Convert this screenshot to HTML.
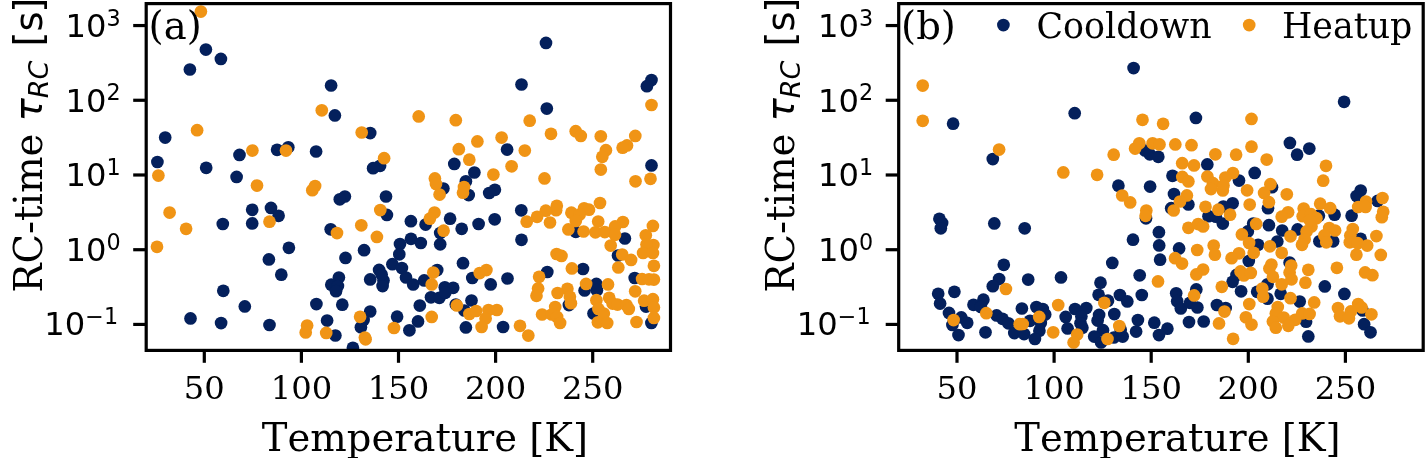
<!DOCTYPE html>
<html><head><meta charset="utf-8"><title>RC-time vs Temperature</title>
<style>html,body{margin:0;padding:0;background:#fff;}svg{display:block;}text{fill:#000;}.ser{font-family:"DejaVu Serif","Liberation Serif",serif;}.san{font-family:"DejaVu Sans","Liberation Sans",sans-serif;}</style></head><body>
<svg width="1425" height="458" viewBox="0 0 1425 458">
<rect width="1425" height="458" fill="#fff"/>
<clipPath id="ca"><rect x="146.2" y="3.6" width="524.3" height="346.79999999999995"/></clipPath>
<g clip-path="url(#ca)">
<circle cx="205.9" cy="49.6" r="6.35" fill="#04205c"/>
<circle cx="220.9" cy="58.9" r="6.35" fill="#04205c"/>
<circle cx="189.9" cy="69.5" r="6.35" fill="#04205c"/>
<circle cx="331.1" cy="85.5" r="6.35" fill="#04205c"/>
<circle cx="546.0" cy="42.9" r="6.35" fill="#04205c"/>
<circle cx="521.5" cy="84.5" r="6.35" fill="#04205c"/>
<circle cx="651.5" cy="80.1" r="6.35" fill="#04205c"/>
<circle cx="646.9" cy="86.2" r="6.35" fill="#04205c"/>
<circle cx="334.9" cy="115.4" r="6.35" fill="#04205c"/>
<circle cx="165.2" cy="137.6" r="6.35" fill="#04205c"/>
<circle cx="370.2" cy="133.1" r="6.35" fill="#04205c"/>
<circle cx="239.5" cy="154.9" r="6.35" fill="#04205c"/>
<circle cx="277.1" cy="149.8" r="6.35" fill="#04205c"/>
<circle cx="288.3" cy="147.3" r="6.35" fill="#04205c"/>
<circle cx="316.1" cy="151.5" r="6.35" fill="#04205c"/>
<circle cx="157.4" cy="162.0" r="6.35" fill="#04205c"/>
<circle cx="206.2" cy="167.8" r="6.35" fill="#04205c"/>
<circle cx="380.1" cy="165.8" r="6.35" fill="#04205c"/>
<circle cx="373.1" cy="168.2" r="6.35" fill="#04205c"/>
<circle cx="546.8" cy="108.6" r="6.35" fill="#04205c"/>
<circle cx="507.1" cy="149.6" r="6.35" fill="#04205c"/>
<circle cx="454.3" cy="163.9" r="6.35" fill="#04205c"/>
<circle cx="651.5" cy="165.4" r="6.35" fill="#04205c"/>
<circle cx="474.4" cy="172.5" r="6.35" fill="#04205c"/>
<circle cx="236.6" cy="176.9" r="6.35" fill="#04205c"/>
<circle cx="344.9" cy="196.5" r="6.35" fill="#04205c"/>
<circle cx="339.8" cy="199.3" r="6.35" fill="#04205c"/>
<circle cx="386.0" cy="196.5" r="6.35" fill="#04205c"/>
<circle cx="252.2" cy="209.8" r="6.35" fill="#04205c"/>
<circle cx="271.0" cy="207.9" r="6.35" fill="#04205c"/>
<circle cx="278.6" cy="215.8" r="6.35" fill="#04205c"/>
<circle cx="386.9" cy="214.9" r="6.35" fill="#04205c"/>
<circle cx="410.9" cy="221.2" r="6.35" fill="#04205c"/>
<circle cx="222.8" cy="224.0" r="6.35" fill="#04205c"/>
<circle cx="252.2" cy="223.4" r="6.35" fill="#04205c"/>
<circle cx="330.7" cy="229.3" r="6.35" fill="#04205c"/>
<circle cx="411.0" cy="238.8" r="6.35" fill="#04205c"/>
<circle cx="400.0" cy="244.0" r="6.35" fill="#04205c"/>
<circle cx="288.9" cy="247.8" r="6.35" fill="#04205c"/>
<circle cx="364.1" cy="250.2" r="6.35" fill="#04205c"/>
<circle cx="443.4" cy="188.5" r="6.35" fill="#04205c"/>
<circle cx="465.9" cy="181.3" r="6.35" fill="#04205c"/>
<circle cx="468.7" cy="195.1" r="6.35" fill="#04205c"/>
<circle cx="494.9" cy="189.8" r="6.35" fill="#04205c"/>
<circle cx="489.2" cy="193.0" r="6.35" fill="#04205c"/>
<circle cx="521.3" cy="210.3" r="6.35" fill="#04205c"/>
<circle cx="425.6" cy="224.6" r="6.35" fill="#04205c"/>
<circle cx="450.1" cy="218.7" r="6.35" fill="#04205c"/>
<circle cx="461.7" cy="228.8" r="6.35" fill="#04205c"/>
<circle cx="478.6" cy="224.0" r="6.35" fill="#04205c"/>
<circle cx="494.7" cy="219.3" r="6.35" fill="#04205c"/>
<circle cx="440.2" cy="233.1" r="6.35" fill="#04205c"/>
<circle cx="420.8" cy="243.0" r="6.35" fill="#04205c"/>
<circle cx="440.2" cy="244.3" r="6.35" fill="#04205c"/>
<circle cx="521.5" cy="239.8" r="6.35" fill="#04205c"/>
<circle cx="575.8" cy="231.8" r="6.35" fill="#04205c"/>
<circle cx="624.9" cy="238.5" r="6.35" fill="#04205c"/>
<circle cx="618.0" cy="255.5" r="6.35" fill="#04205c"/>
<circle cx="583.0" cy="269.0" r="6.35" fill="#04205c"/>
<circle cx="547.3" cy="272.0" r="6.35" fill="#04205c"/>
<circle cx="268.9" cy="259.4" r="6.35" fill="#04205c"/>
<circle cx="345.5" cy="257.9" r="6.35" fill="#04205c"/>
<circle cx="399.3" cy="254.3" r="6.35" fill="#04205c"/>
<circle cx="392.4" cy="264.2" r="6.35" fill="#04205c"/>
<circle cx="401.9" cy="268.0" r="6.35" fill="#04205c"/>
<circle cx="379.1" cy="269.9" r="6.35" fill="#04205c"/>
<circle cx="406.0" cy="277.5" r="6.35" fill="#04205c"/>
<circle cx="413.2" cy="284.5" r="6.35" fill="#04205c"/>
<circle cx="281.3" cy="274.7" r="6.35" fill="#04205c"/>
<circle cx="370.2" cy="279.4" r="6.35" fill="#04205c"/>
<circle cx="383.5" cy="280.4" r="6.35" fill="#04205c"/>
<circle cx="382.6" cy="286.1" r="6.35" fill="#04205c"/>
<circle cx="338.9" cy="277.5" r="6.35" fill="#04205c"/>
<circle cx="331.3" cy="284.7" r="6.35" fill="#04205c"/>
<circle cx="337.9" cy="286.1" r="6.35" fill="#04205c"/>
<circle cx="336.0" cy="291.2" r="6.35" fill="#04205c"/>
<circle cx="223.3" cy="290.8" r="6.35" fill="#04205c"/>
<circle cx="316.4" cy="304.1" r="6.35" fill="#04205c"/>
<circle cx="342.3" cy="304.7" r="6.35" fill="#04205c"/>
<circle cx="244.8" cy="306.4" r="6.35" fill="#04205c"/>
<circle cx="370.2" cy="311.5" r="6.35" fill="#04205c"/>
<circle cx="363.6" cy="320.0" r="6.35" fill="#04205c"/>
<circle cx="397.1" cy="316.7" r="6.35" fill="#04205c"/>
<circle cx="190.5" cy="318.4" r="6.35" fill="#04205c"/>
<circle cx="327.1" cy="320.6" r="6.35" fill="#04205c"/>
<circle cx="221.1" cy="323.1" r="6.35" fill="#04205c"/>
<circle cx="269.5" cy="325.0" r="6.35" fill="#04205c"/>
<circle cx="360.9" cy="327.2" r="6.35" fill="#04205c"/>
<circle cx="409.4" cy="330.3" r="6.35" fill="#04205c"/>
<circle cx="418.0" cy="321.4" r="6.35" fill="#04205c"/>
<circle cx="419.8" cy="305.6" r="6.35" fill="#04205c"/>
<circle cx="335.4" cy="335.5" r="6.35" fill="#04205c"/>
<circle cx="352.9" cy="347.8" r="6.35" fill="#04205c"/>
<circle cx="463.0" cy="263.2" r="6.35" fill="#04205c"/>
<circle cx="437.2" cy="270.1" r="6.35" fill="#04205c"/>
<circle cx="424.2" cy="280.4" r="6.35" fill="#04205c"/>
<circle cx="444.8" cy="287.3" r="6.35" fill="#04205c"/>
<circle cx="453.2" cy="287.8" r="6.35" fill="#04205c"/>
<circle cx="431.0" cy="297.3" r="6.35" fill="#04205c"/>
<circle cx="439.4" cy="297.8" r="6.35" fill="#04205c"/>
<circle cx="445.3" cy="292.8" r="6.35" fill="#04205c"/>
<circle cx="472.3" cy="278.0" r="6.35" fill="#04205c"/>
<circle cx="490.7" cy="284.4" r="6.35" fill="#04205c"/>
<circle cx="507.5" cy="278.5" r="6.35" fill="#04205c"/>
<circle cx="471.5" cy="300.5" r="6.35" fill="#04205c"/>
<circle cx="455.8" cy="304.5" r="6.35" fill="#04205c"/>
<circle cx="464.4" cy="310.5" r="6.35" fill="#04205c"/>
<circle cx="465.9" cy="327.4" r="6.35" fill="#04205c"/>
<circle cx="503.1" cy="327.0" r="6.35" fill="#04205c"/>
<circle cx="634.7" cy="278.0" r="6.35" fill="#04205c"/>
<circle cx="596.4" cy="283.9" r="6.35" fill="#04205c"/>
<circle cx="584.6" cy="290.5" r="6.35" fill="#04205c"/>
<circle cx="596.9" cy="290.2" r="6.35" fill="#04205c"/>
<circle cx="568.9" cy="305.1" r="6.35" fill="#04205c"/>
<circle cx="593.5" cy="313.5" r="6.35" fill="#04205c"/>
<circle cx="646.0" cy="306.6" r="6.35" fill="#04205c"/>
<circle cx="651.4" cy="323.0" r="6.35" fill="#04205c"/>
<circle cx="381.6" cy="274.6" r="6.35" fill="#04205c"/>
<circle cx="200.9" cy="11.6" r="6.35" fill="#f09415"/>
<circle cx="321.8" cy="110.3" r="6.35" fill="#f09415"/>
<circle cx="418.7" cy="116.4" r="6.35" fill="#f09415"/>
<circle cx="197.1" cy="130.2" r="6.35" fill="#f09415"/>
<circle cx="361.7" cy="132.5" r="6.35" fill="#f09415"/>
<circle cx="252.4" cy="150.6" r="6.35" fill="#f09415"/>
<circle cx="286.0" cy="150.6" r="6.35" fill="#f09415"/>
<circle cx="384.1" cy="158.2" r="6.35" fill="#f09415"/>
<circle cx="651.5" cy="105.0" r="6.35" fill="#f09415"/>
<circle cx="455.8" cy="120.2" r="6.35" fill="#f09415"/>
<circle cx="529.7" cy="120.7" r="6.35" fill="#f09415"/>
<circle cx="551.0" cy="133.8" r="6.35" fill="#f09415"/>
<circle cx="575.7" cy="131.2" r="6.35" fill="#f09415"/>
<circle cx="580.8" cy="135.9" r="6.35" fill="#f09415"/>
<circle cx="600.8" cy="136.3" r="6.35" fill="#f09415"/>
<circle cx="635.3" cy="135.9" r="6.35" fill="#f09415"/>
<circle cx="501.6" cy="137.6" r="6.35" fill="#f09415"/>
<circle cx="477.4" cy="141.4" r="6.35" fill="#f09415"/>
<circle cx="627.0" cy="145.4" r="6.35" fill="#f09415"/>
<circle cx="622.6" cy="147.7" r="6.35" fill="#f09415"/>
<circle cx="605.9" cy="150.2" r="6.35" fill="#f09415"/>
<circle cx="458.8" cy="149.2" r="6.35" fill="#f09415"/>
<circle cx="524.8" cy="150.6" r="6.35" fill="#f09415"/>
<circle cx="602.3" cy="156.8" r="6.35" fill="#f09415"/>
<circle cx="469.3" cy="159.7" r="6.35" fill="#f09415"/>
<circle cx="511.6" cy="166.3" r="6.35" fill="#f09415"/>
<circle cx="600.8" cy="169.6" r="6.35" fill="#f09415"/>
<circle cx="493.4" cy="174.6" r="6.35" fill="#f09415"/>
<circle cx="158.4" cy="175.6" r="6.35" fill="#f09415"/>
<circle cx="257.0" cy="185.6" r="6.35" fill="#f09415"/>
<circle cx="315.1" cy="186.0" r="6.35" fill="#f09415"/>
<circle cx="312.3" cy="190.2" r="6.35" fill="#f09415"/>
<circle cx="169.6" cy="212.6" r="6.35" fill="#f09415"/>
<circle cx="380.3" cy="210.1" r="6.35" fill="#f09415"/>
<circle cx="269.5" cy="221.7" r="6.35" fill="#f09415"/>
<circle cx="361.3" cy="225.3" r="6.35" fill="#f09415"/>
<circle cx="186.1" cy="228.8" r="6.35" fill="#f09415"/>
<circle cx="337.0" cy="233.1" r="6.35" fill="#f09415"/>
<circle cx="376.9" cy="236.9" r="6.35" fill="#f09415"/>
<circle cx="157.0" cy="246.8" r="6.35" fill="#f09415"/>
<circle cx="544.5" cy="178.4" r="6.35" fill="#f09415"/>
<circle cx="635.5" cy="181.3" r="6.35" fill="#f09415"/>
<circle cx="650.5" cy="178.8" r="6.35" fill="#f09415"/>
<circle cx="434.9" cy="178.4" r="6.35" fill="#f09415"/>
<circle cx="436.0" cy="184.1" r="6.35" fill="#f09415"/>
<circle cx="439.6" cy="194.6" r="6.35" fill="#f09415"/>
<circle cx="464.0" cy="187.0" r="6.35" fill="#f09415"/>
<circle cx="463.0" cy="192.7" r="6.35" fill="#f09415"/>
<circle cx="600.0" cy="203.0" r="6.35" fill="#f09415"/>
<circle cx="556.8" cy="205.8" r="6.35" fill="#f09415"/>
<circle cx="556.1" cy="210.2" r="6.35" fill="#f09415"/>
<circle cx="545.8" cy="210.7" r="6.35" fill="#f09415"/>
<circle cx="537.1" cy="216.8" r="6.35" fill="#f09415"/>
<circle cx="526.7" cy="221.7" r="6.35" fill="#f09415"/>
<circle cx="550.0" cy="222.5" r="6.35" fill="#f09415"/>
<circle cx="584.1" cy="208.3" r="6.35" fill="#f09415"/>
<circle cx="589.0" cy="209.7" r="6.35" fill="#f09415"/>
<circle cx="571.4" cy="212.7" r="6.35" fill="#f09415"/>
<circle cx="579.7" cy="214.6" r="6.35" fill="#f09415"/>
<circle cx="575.8" cy="221.0" r="6.35" fill="#f09415"/>
<circle cx="598.2" cy="221.5" r="6.35" fill="#f09415"/>
<circle cx="622.9" cy="222.0" r="6.35" fill="#f09415"/>
<circle cx="615.1" cy="226.4" r="6.35" fill="#f09415"/>
<circle cx="568.4" cy="229.4" r="6.35" fill="#f09415"/>
<circle cx="583.6" cy="231.5" r="6.35" fill="#f09415"/>
<circle cx="595.4" cy="232.3" r="6.35" fill="#f09415"/>
<circle cx="604.8" cy="232.1" r="6.35" fill="#f09415"/>
<circle cx="615.0" cy="234.8" r="6.35" fill="#f09415"/>
<circle cx="652.9" cy="225.9" r="6.35" fill="#f09415"/>
<circle cx="645.8" cy="235.3" r="6.35" fill="#f09415"/>
<circle cx="434.5" cy="212.6" r="6.35" fill="#f09415"/>
<circle cx="429.8" cy="218.7" r="6.35" fill="#f09415"/>
<circle cx="443.6" cy="230.7" r="6.35" fill="#f09415"/>
<circle cx="610.7" cy="245.6" r="6.35" fill="#f09415"/>
<circle cx="653.4" cy="245.1" r="6.35" fill="#f09415"/>
<circle cx="646.5" cy="244.6" r="6.35" fill="#f09415"/>
<circle cx="643.1" cy="253.0" r="6.35" fill="#f09415"/>
<circle cx="652.9" cy="253.0" r="6.35" fill="#f09415"/>
<circle cx="622.2" cy="254.5" r="6.35" fill="#f09415"/>
<circle cx="631.1" cy="259.9" r="6.35" fill="#f09415"/>
<circle cx="556.6" cy="254.0" r="6.35" fill="#f09415"/>
<circle cx="561.5" cy="255.9" r="6.35" fill="#f09415"/>
<circle cx="571.9" cy="268.4" r="6.35" fill="#f09415"/>
<circle cx="618.3" cy="267.5" r="6.35" fill="#f09415"/>
<circle cx="653.9" cy="265.8" r="6.35" fill="#f09415"/>
<circle cx="360.1" cy="316.8" r="6.35" fill="#f09415"/>
<circle cx="307.1" cy="325.5" r="6.35" fill="#f09415"/>
<circle cx="394.0" cy="328.0" r="6.35" fill="#f09415"/>
<circle cx="305.7" cy="332.4" r="6.35" fill="#f09415"/>
<circle cx="326.2" cy="332.9" r="6.35" fill="#f09415"/>
<circle cx="364.9" cy="337.6" r="6.35" fill="#f09415"/>
<circle cx="365.6" cy="339.3" r="6.35" fill="#f09415"/>
<circle cx="433.3" cy="272.6" r="6.35" fill="#f09415"/>
<circle cx="431.7" cy="284.4" r="6.35" fill="#f09415"/>
<circle cx="479.7" cy="273.1" r="6.35" fill="#f09415"/>
<circle cx="486.4" cy="270.1" r="6.35" fill="#f09415"/>
<circle cx="539.1" cy="276.8" r="6.35" fill="#f09415"/>
<circle cx="538.1" cy="288.4" r="6.35" fill="#f09415"/>
<circle cx="536.5" cy="295.8" r="6.35" fill="#f09415"/>
<circle cx="542.1" cy="314.5" r="6.35" fill="#f09415"/>
<circle cx="431.7" cy="316.9" r="6.35" fill="#f09415"/>
<circle cx="456.9" cy="305.4" r="6.35" fill="#f09415"/>
<circle cx="469.4" cy="314.0" r="6.35" fill="#f09415"/>
<circle cx="476.2" cy="311.0" r="6.35" fill="#f09415"/>
<circle cx="488.5" cy="310.0" r="6.35" fill="#f09415"/>
<circle cx="496.9" cy="310.0" r="6.35" fill="#f09415"/>
<circle cx="485.6" cy="318.4" r="6.35" fill="#f09415"/>
<circle cx="481.6" cy="327.0" r="6.35" fill="#f09415"/>
<circle cx="520.0" cy="325.8" r="6.35" fill="#f09415"/>
<circle cx="528.3" cy="335.6" r="6.35" fill="#f09415"/>
<circle cx="642.1" cy="279.0" r="6.35" fill="#f09415"/>
<circle cx="649.0" cy="279.3" r="6.35" fill="#f09415"/>
<circle cx="653.9" cy="279.6" r="6.35" fill="#f09415"/>
<circle cx="586.1" cy="283.9" r="6.35" fill="#f09415"/>
<circle cx="608.0" cy="284.4" r="6.35" fill="#f09415"/>
<circle cx="567.4" cy="288.8" r="6.35" fill="#f09415"/>
<circle cx="557.6" cy="293.0" r="6.35" fill="#f09415"/>
<circle cx="635.2" cy="291.3" r="6.35" fill="#f09415"/>
<circle cx="569.9" cy="296.8" r="6.35" fill="#f09415"/>
<circle cx="570.9" cy="303.2" r="6.35" fill="#f09415"/>
<circle cx="555.2" cy="307.1" r="6.35" fill="#f09415"/>
<circle cx="551.7" cy="314.5" r="6.35" fill="#f09415"/>
<circle cx="557.1" cy="316.9" r="6.35" fill="#f09415"/>
<circle cx="560.1" cy="323.0" r="6.35" fill="#f09415"/>
<circle cx="596.4" cy="300.2" r="6.35" fill="#f09415"/>
<circle cx="598.4" cy="309.0" r="6.35" fill="#f09415"/>
<circle cx="603.8" cy="313.5" r="6.35" fill="#f09415"/>
<circle cx="597.9" cy="322.3" r="6.35" fill="#f09415"/>
<circle cx="607.2" cy="323.0" r="6.35" fill="#f09415"/>
<circle cx="609.2" cy="297.8" r="6.35" fill="#f09415"/>
<circle cx="612.6" cy="303.6" r="6.35" fill="#f09415"/>
<circle cx="617.5" cy="304.6" r="6.35" fill="#f09415"/>
<circle cx="626.4" cy="305.1" r="6.35" fill="#f09415"/>
<circle cx="628.8" cy="309.0" r="6.35" fill="#f09415"/>
<circle cx="644.1" cy="300.7" r="6.35" fill="#f09415"/>
<circle cx="652.9" cy="299.2" r="6.35" fill="#f09415"/>
<circle cx="653.9" cy="307.6" r="6.35" fill="#f09415"/>
<circle cx="653.9" cy="317.9" r="6.35" fill="#f09415"/>
<circle cx="636.5" cy="322.0" r="6.35" fill="#f09415"/>
</g>
<line x1="204.3" y1="350.4" x2="204.3" y2="362.79999999999995" stroke="#000" stroke-width="3.2"/>
<text class="ser" x="204.3" y="398.8" font-size="32.2" text-anchor="middle">50</text>
<line x1="301.4" y1="350.4" x2="301.4" y2="362.79999999999995" stroke="#000" stroke-width="3.2"/>
<text class="ser" x="301.4" y="398.8" font-size="32.2" text-anchor="middle">100</text>
<line x1="398.5" y1="350.4" x2="398.5" y2="362.79999999999995" stroke="#000" stroke-width="3.2"/>
<text class="ser" x="398.5" y="398.8" font-size="32.2" text-anchor="middle">150</text>
<line x1="495.6" y1="350.4" x2="495.6" y2="362.79999999999995" stroke="#000" stroke-width="3.2"/>
<text class="ser" x="495.6" y="398.8" font-size="32.2" text-anchor="middle">200</text>
<line x1="592.7" y1="350.4" x2="592.7" y2="362.79999999999995" stroke="#000" stroke-width="3.2"/>
<text class="ser" x="592.7" y="398.8" font-size="32.2" text-anchor="middle">250</text>
<line x1="133.2" y1="25.55" x2="146.2" y2="25.55" stroke="#000" stroke-width="3.2"/>
<text class="san" x="120.70" y="36.95" font-size="32.2" text-anchor="end">10<tspan dy="-11.4" font-size="22.3">3</tspan></text>
<line x1="133.2" y1="100.27" x2="146.2" y2="100.27" stroke="#000" stroke-width="3.2"/>
<text class="san" x="120.70" y="111.67" font-size="32.2" text-anchor="end">10<tspan dy="-11.4" font-size="22.3">2</tspan></text>
<line x1="133.2" y1="174.99" x2="146.2" y2="174.99" stroke="#000" stroke-width="3.2"/>
<text class="san" x="120.70" y="186.39" font-size="32.2" text-anchor="end">10<tspan dy="-11.4" font-size="22.3">1</tspan></text>
<line x1="133.2" y1="249.71" x2="146.2" y2="249.71" stroke="#000" stroke-width="3.2"/>
<text class="san" x="120.70" y="261.11" font-size="32.2" text-anchor="end">10<tspan dy="-11.4" font-size="22.3">0</tspan></text>
<line x1="133.2" y1="324.43" x2="146.2" y2="324.43" stroke="#000" stroke-width="3.2"/>
<text class="san" x="118.20" y="335.13" font-size="32.2" text-anchor="end">10<tspan dy="-11.4" font-size="22.3">−1</tspan></text>
<rect x="146.2" y="3.6" width="524.3" height="346.79999999999995" fill="none" stroke="#000" stroke-width="3.2"/>
<text class="ser" x="148.6" y="39.3" font-size="38.6">(a)</text>
<text class="ser" x="261.8" y="450.6" font-size="38.5" style="font-kerning:none">Temperature [K]</text>
<text class="ser" transform="translate(41.999999999999986,292.5) rotate(-90)" font-size="38.6">RC-time <tspan class="san" font-style="italic">τ</tspan><tspan class="san" font-style="italic" font-size="27" dy="6">RC</tspan><tspan class="san" dy="-6" dx="14">[s</tspan><tspan class="san" dx="-1.5">]</tspan></text>
<clipPath id="cb"><rect x="898.7" y="3.6" width="524.5" height="346.79999999999995"/></clipPath>
<g clip-path="url(#cb)">
<circle cx="953.1" cy="123.7" r="6.35" fill="#04205c"/>
<circle cx="1074.7" cy="113.2" r="6.35" fill="#04205c"/>
<circle cx="1133.6" cy="68.1" r="6.35" fill="#04205c"/>
<circle cx="1195.9" cy="117.9" r="6.35" fill="#04205c"/>
<circle cx="1344.1" cy="101.8" r="6.35" fill="#04205c"/>
<circle cx="992.8" cy="159.1" r="6.35" fill="#04205c"/>
<circle cx="1145.0" cy="150.5" r="6.35" fill="#04205c"/>
<circle cx="1149.8" cy="154.3" r="6.35" fill="#04205c"/>
<circle cx="1158.3" cy="156.8" r="6.35" fill="#04205c"/>
<circle cx="1118.4" cy="185.7" r="6.35" fill="#04205c"/>
<circle cx="1150.1" cy="186.6" r="6.35" fill="#04205c"/>
<circle cx="1172.5" cy="175.8" r="6.35" fill="#04205c"/>
<circle cx="1289.9" cy="142.9" r="6.35" fill="#04205c"/>
<circle cx="1309.3" cy="148.6" r="6.35" fill="#04205c"/>
<circle cx="1297.1" cy="154.7" r="6.35" fill="#04205c"/>
<circle cx="1207.3" cy="164.4" r="6.35" fill="#04205c"/>
<circle cx="1254.7" cy="172.9" r="6.35" fill="#04205c"/>
<circle cx="1239.0" cy="180.6" r="6.35" fill="#04205c"/>
<circle cx="1272.0" cy="187.2" r="6.35" fill="#04205c"/>
<circle cx="1174.0" cy="194.0" r="6.35" fill="#04205c"/>
<circle cx="1188.4" cy="204.5" r="6.35" fill="#04205c"/>
<circle cx="1232.6" cy="203.3" r="6.35" fill="#04205c"/>
<circle cx="1223.3" cy="206.5" r="6.35" fill="#04205c"/>
<circle cx="1268.0" cy="208.2" r="6.35" fill="#04205c"/>
<circle cx="1171.2" cy="208.2" r="6.35" fill="#04205c"/>
<circle cx="1360.7" cy="190.5" r="6.35" fill="#04205c"/>
<circle cx="1356.6" cy="196.0" r="6.35" fill="#04205c"/>
<circle cx="1377.6" cy="200.9" r="6.35" fill="#04205c"/>
<circle cx="939.4" cy="218.8" r="6.35" fill="#04205c"/>
<circle cx="942.1" cy="223.0" r="6.35" fill="#04205c"/>
<circle cx="940.8" cy="228.3" r="6.35" fill="#04205c"/>
<circle cx="994.3" cy="223.4" r="6.35" fill="#04205c"/>
<circle cx="1024.7" cy="228.3" r="6.35" fill="#04205c"/>
<circle cx="1146.0" cy="218.3" r="6.35" fill="#04205c"/>
<circle cx="1158.9" cy="232.2" r="6.35" fill="#04205c"/>
<circle cx="1159.2" cy="245.4" r="6.35" fill="#04205c"/>
<circle cx="1133.0" cy="239.7" r="6.35" fill="#04205c"/>
<circle cx="1160.1" cy="259.7" r="6.35" fill="#04205c"/>
<circle cx="1112.3" cy="262.9" r="6.35" fill="#04205c"/>
<circle cx="1003.8" cy="264.8" r="6.35" fill="#04205c"/>
<circle cx="1139.7" cy="275.3" r="6.35" fill="#04205c"/>
<circle cx="1061.0" cy="277.4" r="6.35" fill="#04205c"/>
<circle cx="1028.2" cy="279.6" r="6.35" fill="#04205c"/>
<circle cx="999.1" cy="279.1" r="6.35" fill="#04205c"/>
<circle cx="992.8" cy="286.2" r="6.35" fill="#04205c"/>
<circle cx="1100.5" cy="282.7" r="6.35" fill="#04205c"/>
<circle cx="938.2" cy="293.8" r="6.35" fill="#04205c"/>
<circle cx="954.4" cy="291.8" r="6.35" fill="#04205c"/>
<circle cx="940.1" cy="303.6" r="6.35" fill="#04205c"/>
<circle cx="949.0" cy="312.9" r="6.35" fill="#04205c"/>
<circle cx="961.3" cy="317.4" r="6.35" fill="#04205c"/>
<circle cx="967.2" cy="322.8" r="6.35" fill="#04205c"/>
<circle cx="952.4" cy="325.0" r="6.35" fill="#04205c"/>
<circle cx="983.4" cy="299.7" r="6.35" fill="#04205c"/>
<circle cx="973.5" cy="304.8" r="6.35" fill="#04205c"/>
<circle cx="980.9" cy="307.0" r="6.35" fill="#04205c"/>
<circle cx="996.6" cy="315.4" r="6.35" fill="#04205c"/>
<circle cx="1002.5" cy="318.8" r="6.35" fill="#04205c"/>
<circle cx="1008.4" cy="323.3" r="6.35" fill="#04205c"/>
<circle cx="1021.9" cy="308.5" r="6.35" fill="#04205c"/>
<circle cx="1036.4" cy="307.0" r="6.35" fill="#04205c"/>
<circle cx="1042.8" cy="309.0" r="6.35" fill="#04205c"/>
<circle cx="1045.2" cy="314.4" r="6.35" fill="#04205c"/>
<circle cx="1030.0" cy="320.8" r="6.35" fill="#04205c"/>
<circle cx="1040.8" cy="323.0" r="6.35" fill="#04205c"/>
<circle cx="958.5" cy="335.1" r="6.35" fill="#04205c"/>
<circle cx="985.5" cy="332.3" r="6.35" fill="#04205c"/>
<circle cx="1014.3" cy="333.1" r="6.35" fill="#04205c"/>
<circle cx="1024.1" cy="334.1" r="6.35" fill="#04205c"/>
<circle cx="1039.4" cy="330.7" r="6.35" fill="#04205c"/>
<circle cx="1034.9" cy="339.0" r="6.35" fill="#04205c"/>
<circle cx="1098.6" cy="294.8" r="6.35" fill="#04205c"/>
<circle cx="1108.0" cy="300.7" r="6.35" fill="#04205c"/>
<circle cx="1119.9" cy="295.0" r="6.35" fill="#04205c"/>
<circle cx="1127.3" cy="301.4" r="6.35" fill="#04205c"/>
<circle cx="1141.8" cy="295.0" r="6.35" fill="#04205c"/>
<circle cx="1176.2" cy="293.3" r="6.35" fill="#04205c"/>
<circle cx="1177.2" cy="301.2" r="6.35" fill="#04205c"/>
<circle cx="1180.8" cy="308.5" r="6.35" fill="#04205c"/>
<circle cx="1190.0" cy="302.8" r="6.35" fill="#04205c"/>
<circle cx="1075.0" cy="309.0" r="6.35" fill="#04205c"/>
<circle cx="1086.3" cy="308.0" r="6.35" fill="#04205c"/>
<circle cx="1065.7" cy="316.9" r="6.35" fill="#04205c"/>
<circle cx="1081.4" cy="316.4" r="6.35" fill="#04205c"/>
<circle cx="1080.5" cy="323.3" r="6.35" fill="#04205c"/>
<circle cx="1067.6" cy="328.4" r="6.35" fill="#04205c"/>
<circle cx="1082.4" cy="327.7" r="6.35" fill="#04205c"/>
<circle cx="1099.1" cy="314.9" r="6.35" fill="#04205c"/>
<circle cx="1097.6" cy="320.6" r="6.35" fill="#04205c"/>
<circle cx="1114.3" cy="314.1" r="6.35" fill="#04205c"/>
<circle cx="1137.9" cy="320.0" r="6.35" fill="#04205c"/>
<circle cx="1154.3" cy="322.7" r="6.35" fill="#04205c"/>
<circle cx="1167.4" cy="328.7" r="6.35" fill="#04205c"/>
<circle cx="1189.0" cy="322.1" r="6.35" fill="#04205c"/>
<circle cx="1103.0" cy="330.2" r="6.35" fill="#04205c"/>
<circle cx="1094.2" cy="336.6" r="6.35" fill="#04205c"/>
<circle cx="1101.1" cy="342.5" r="6.35" fill="#04205c"/>
<circle cx="1113.9" cy="337.5" r="6.35" fill="#04205c"/>
<circle cx="1122.7" cy="336.6" r="6.35" fill="#04205c"/>
<circle cx="1120.7" cy="329.7" r="6.35" fill="#04205c"/>
<circle cx="1136.1" cy="331.6" r="6.35" fill="#04205c"/>
<circle cx="1159.0" cy="335.1" r="6.35" fill="#04205c"/>
<circle cx="1208.5" cy="216.2" r="6.35" fill="#04205c"/>
<circle cx="1215.9" cy="216.7" r="6.35" fill="#04205c"/>
<circle cx="1222.8" cy="223.6" r="6.35" fill="#04205c"/>
<circle cx="1253.2" cy="223.6" r="6.35" fill="#04205c"/>
<circle cx="1247.8" cy="231.4" r="6.35" fill="#04205c"/>
<circle cx="1268.9" cy="225.2" r="6.35" fill="#04205c"/>
<circle cx="1282.2" cy="230.5" r="6.35" fill="#04205c"/>
<circle cx="1297.6" cy="229.4" r="6.35" fill="#04205c"/>
<circle cx="1277.3" cy="241.5" r="6.35" fill="#04205c"/>
<circle cx="1258.1" cy="244.8" r="6.35" fill="#04205c"/>
<circle cx="1179.1" cy="248.4" r="6.35" fill="#04205c"/>
<circle cx="1318.9" cy="215.7" r="6.35" fill="#04205c"/>
<circle cx="1334.6" cy="214.7" r="6.35" fill="#04205c"/>
<circle cx="1351.6" cy="215.7" r="6.35" fill="#04205c"/>
<circle cx="1319.4" cy="241.3" r="6.35" fill="#04205c"/>
<circle cx="1333.1" cy="241.3" r="6.35" fill="#04205c"/>
<circle cx="1360.6" cy="238.8" r="6.35" fill="#04205c"/>
<circle cx="1248.8" cy="261.1" r="6.35" fill="#04205c"/>
<circle cx="1289.6" cy="262.6" r="6.35" fill="#04205c"/>
<circle cx="1267.5" cy="284.3" r="6.35" fill="#04205c"/>
<circle cx="1236.5" cy="274.9" r="6.35" fill="#04205c"/>
<circle cx="1232.6" cy="281.8" r="6.35" fill="#04205c"/>
<circle cx="1196.3" cy="289.4" r="6.35" fill="#04205c"/>
<circle cx="1197.4" cy="307.5" r="6.35" fill="#04205c"/>
<circle cx="1241.1" cy="291.3" r="6.35" fill="#04205c"/>
<circle cx="1216.9" cy="305.0" r="6.35" fill="#04205c"/>
<circle cx="1225.7" cy="308.0" r="6.35" fill="#04205c"/>
<circle cx="1257.2" cy="291.8" r="6.35" fill="#04205c"/>
<circle cx="1267.5" cy="298.7" r="6.35" fill="#04205c"/>
<circle cx="1280.7" cy="293.8" r="6.35" fill="#04205c"/>
<circle cx="1203.7" cy="321.5" r="6.35" fill="#04205c"/>
<circle cx="1324.8" cy="286.4" r="6.35" fill="#04205c"/>
<circle cx="1344.4" cy="293.9" r="6.35" fill="#04205c"/>
<circle cx="1299.7" cy="301.6" r="6.35" fill="#04205c"/>
<circle cx="1362.6" cy="310.5" r="6.35" fill="#04205c"/>
<circle cx="1364.1" cy="324.2" r="6.35" fill="#04205c"/>
<circle cx="1306.1" cy="321.7" r="6.35" fill="#04205c"/>
<circle cx="1308.3" cy="336.4" r="6.35" fill="#04205c"/>
<circle cx="1370.5" cy="332.3" r="6.35" fill="#04205c"/>
<circle cx="922.7" cy="85.6" r="6.35" fill="#f09415"/>
<circle cx="922.7" cy="120.8" r="6.35" fill="#f09415"/>
<circle cx="1142.5" cy="119.8" r="6.35" fill="#f09415"/>
<circle cx="1163.1" cy="123.8" r="6.35" fill="#f09415"/>
<circle cx="1251.5" cy="118.9" r="6.35" fill="#f09415"/>
<circle cx="999.1" cy="149.6" r="6.35" fill="#f09415"/>
<circle cx="1063.3" cy="172.4" r="6.35" fill="#f09415"/>
<circle cx="1097.1" cy="174.8" r="6.35" fill="#f09415"/>
<circle cx="1113.7" cy="154.7" r="6.35" fill="#f09415"/>
<circle cx="1139.3" cy="143.3" r="6.35" fill="#f09415"/>
<circle cx="1135.1" cy="148.6" r="6.35" fill="#f09415"/>
<circle cx="1152.6" cy="143.3" r="6.35" fill="#f09415"/>
<circle cx="1159.5" cy="144.4" r="6.35" fill="#f09415"/>
<circle cx="1122.2" cy="195.5" r="6.35" fill="#f09415"/>
<circle cx="1130.2" cy="202.4" r="6.35" fill="#f09415"/>
<circle cx="1146.3" cy="210.6" r="6.35" fill="#f09415"/>
<circle cx="1145.6" cy="215.8" r="6.35" fill="#f09415"/>
<circle cx="1175.3" cy="144.4" r="6.35" fill="#f09415"/>
<circle cx="1191.5" cy="145.2" r="6.35" fill="#f09415"/>
<circle cx="1251.5" cy="146.7" r="6.35" fill="#f09415"/>
<circle cx="1215.4" cy="154.3" r="6.35" fill="#f09415"/>
<circle cx="1236.1" cy="154.7" r="6.35" fill="#f09415"/>
<circle cx="1266.7" cy="159.6" r="6.35" fill="#f09415"/>
<circle cx="1326.0" cy="165.8" r="6.35" fill="#f09415"/>
<circle cx="1323.2" cy="180.7" r="6.35" fill="#f09415"/>
<circle cx="1182.2" cy="163.2" r="6.35" fill="#f09415"/>
<circle cx="1194.0" cy="165.4" r="6.35" fill="#f09415"/>
<circle cx="1182.3" cy="176.9" r="6.35" fill="#f09415"/>
<circle cx="1188.4" cy="181.4" r="6.35" fill="#f09415"/>
<circle cx="1207.4" cy="176.5" r="6.35" fill="#f09415"/>
<circle cx="1232.9" cy="173.1" r="6.35" fill="#f09415"/>
<circle cx="1225.3" cy="177.6" r="6.35" fill="#f09415"/>
<circle cx="1213.0" cy="183.2" r="6.35" fill="#f09415"/>
<circle cx="1211.0" cy="189.1" r="6.35" fill="#f09415"/>
<circle cx="1222.8" cy="190.5" r="6.35" fill="#f09415"/>
<circle cx="1223.5" cy="185.5" r="6.35" fill="#f09415"/>
<circle cx="1247.1" cy="190.3" r="6.35" fill="#f09415"/>
<circle cx="1270.4" cy="184.2" r="6.35" fill="#f09415"/>
<circle cx="1264.1" cy="192.9" r="6.35" fill="#f09415"/>
<circle cx="1286.8" cy="194.3" r="6.35" fill="#f09415"/>
<circle cx="1268.9" cy="202.2" r="6.35" fill="#f09415"/>
<circle cx="1249.7" cy="204.6" r="6.35" fill="#f09415"/>
<circle cx="1205.5" cy="206.8" r="6.35" fill="#f09415"/>
<circle cx="1218.4" cy="209.7" r="6.35" fill="#f09415"/>
<circle cx="1186.9" cy="195.4" r="6.35" fill="#f09415"/>
<circle cx="1180.0" cy="201.5" r="6.35" fill="#f09415"/>
<circle cx="1173.7" cy="210.5" r="6.35" fill="#f09415"/>
<circle cx="1382.5" cy="198.0" r="6.35" fill="#f09415"/>
<circle cx="1366.0" cy="201.6" r="6.35" fill="#f09415"/>
<circle cx="1358.2" cy="207.0" r="6.35" fill="#f09415"/>
<circle cx="1320.2" cy="203.7" r="6.35" fill="#f09415"/>
<circle cx="1330.2" cy="208.2" r="6.35" fill="#f09415"/>
<circle cx="1303.7" cy="208.5" r="6.35" fill="#f09415"/>
<circle cx="1383.2" cy="211.8" r="6.35" fill="#f09415"/>
<circle cx="1381.8" cy="217.2" r="6.35" fill="#f09415"/>
<circle cx="1365.6" cy="206.9" r="6.35" fill="#f09415"/>
<circle cx="1230.1" cy="214.7" r="6.35" fill="#f09415"/>
<circle cx="1288.1" cy="212.3" r="6.35" fill="#f09415"/>
<circle cx="1281.7" cy="216.7" r="6.35" fill="#f09415"/>
<circle cx="1188.4" cy="227.8" r="6.35" fill="#f09415"/>
<circle cx="1198.2" cy="224.1" r="6.35" fill="#f09415"/>
<circle cx="1203.1" cy="226.5" r="6.35" fill="#f09415"/>
<circle cx="1256.2" cy="223.9" r="6.35" fill="#f09415"/>
<circle cx="1241.9" cy="234.4" r="6.35" fill="#f09415"/>
<circle cx="1290.5" cy="236.3" r="6.35" fill="#f09415"/>
<circle cx="1249.1" cy="243.0" r="6.35" fill="#f09415"/>
<circle cx="1269.9" cy="246.3" r="6.35" fill="#f09415"/>
<circle cx="1213.7" cy="245.5" r="6.35" fill="#f09415"/>
<circle cx="1302.7" cy="216.2" r="6.35" fill="#f09415"/>
<circle cx="1311.0" cy="214.2" r="6.35" fill="#f09415"/>
<circle cx="1316.4" cy="218.2" r="6.35" fill="#f09415"/>
<circle cx="1311.5" cy="226.5" r="6.35" fill="#f09415"/>
<circle cx="1306.6" cy="231.4" r="6.35" fill="#f09415"/>
<circle cx="1304.6" cy="239.3" r="6.35" fill="#f09415"/>
<circle cx="1302.0" cy="244.8" r="6.35" fill="#f09415"/>
<circle cx="1329.2" cy="228.0" r="6.35" fill="#f09415"/>
<circle cx="1335.1" cy="230.5" r="6.35" fill="#f09415"/>
<circle cx="1324.3" cy="235.4" r="6.35" fill="#f09415"/>
<circle cx="1326.3" cy="242.3" r="6.35" fill="#f09415"/>
<circle cx="1352.8" cy="229.0" r="6.35" fill="#f09415"/>
<circle cx="1350.3" cy="235.4" r="6.35" fill="#f09415"/>
<circle cx="1349.8" cy="242.3" r="6.35" fill="#f09415"/>
<circle cx="1357.7" cy="243.2" r="6.35" fill="#f09415"/>
<circle cx="1367.2" cy="245.6" r="6.35" fill="#f09415"/>
<circle cx="1376.4" cy="236.1" r="6.35" fill="#f09415"/>
<circle cx="1175.1" cy="258.2" r="6.35" fill="#f09415"/>
<circle cx="1182.0" cy="263.6" r="6.35" fill="#f09415"/>
<circle cx="1197.2" cy="250.0" r="6.35" fill="#f09415"/>
<circle cx="1214.9" cy="254.7" r="6.35" fill="#f09415"/>
<circle cx="1239.0" cy="253.3" r="6.35" fill="#f09415"/>
<circle cx="1231.6" cy="258.2" r="6.35" fill="#f09415"/>
<circle cx="1253.7" cy="252.8" r="6.35" fill="#f09415"/>
<circle cx="1281.7" cy="252.8" r="6.35" fill="#f09415"/>
<circle cx="1291.2" cy="265.5" r="6.35" fill="#f09415"/>
<circle cx="1271.4" cy="264.6" r="6.35" fill="#f09415"/>
<circle cx="1269.4" cy="268.5" r="6.35" fill="#f09415"/>
<circle cx="1272.9" cy="276.8" r="6.35" fill="#f09415"/>
<circle cx="1289.6" cy="272.4" r="6.35" fill="#f09415"/>
<circle cx="1291.5" cy="279.3" r="6.35" fill="#f09415"/>
<circle cx="1281.7" cy="284.3" r="6.35" fill="#f09415"/>
<circle cx="1240.5" cy="271.4" r="6.35" fill="#f09415"/>
<circle cx="1243.9" cy="275.4" r="6.35" fill="#f09415"/>
<circle cx="1250.8" cy="272.9" r="6.35" fill="#f09415"/>
<circle cx="1203.1" cy="269.5" r="6.35" fill="#f09415"/>
<circle cx="1196.3" cy="274.4" r="6.35" fill="#f09415"/>
<circle cx="1158.0" cy="281.4" r="6.35" fill="#f09415"/>
<circle cx="1221.8" cy="286.8" r="6.35" fill="#f09415"/>
<circle cx="1262.3" cy="288.6" r="6.35" fill="#f09415"/>
<circle cx="1356.4" cy="254.7" r="6.35" fill="#f09415"/>
<circle cx="1380.8" cy="254.9" r="6.35" fill="#f09415"/>
<circle cx="1308.3" cy="269.8" r="6.35" fill="#f09415"/>
<circle cx="1336.9" cy="267.8" r="6.35" fill="#f09415"/>
<circle cx="1365.1" cy="272.4" r="6.35" fill="#f09415"/>
<circle cx="1372.4" cy="275.2" r="6.35" fill="#f09415"/>
<circle cx="1305.4" cy="282.7" r="6.35" fill="#f09415"/>
<circle cx="1194.1" cy="295.4" r="6.35" fill="#f09415"/>
<circle cx="1224.5" cy="311.6" r="6.35" fill="#f09415"/>
<circle cx="1249.3" cy="304.1" r="6.35" fill="#f09415"/>
<circle cx="1263.1" cy="296.7" r="6.35" fill="#f09415"/>
<circle cx="1290.5" cy="298.2" r="6.35" fill="#f09415"/>
<circle cx="1277.8" cy="307.0" r="6.35" fill="#f09415"/>
<circle cx="1275.8" cy="313.4" r="6.35" fill="#f09415"/>
<circle cx="1283.7" cy="317.6" r="6.35" fill="#f09415"/>
<circle cx="1272.9" cy="321.5" r="6.35" fill="#f09415"/>
<circle cx="1295.2" cy="319.8" r="6.35" fill="#f09415"/>
<circle cx="1245.9" cy="317.3" r="6.35" fill="#f09415"/>
<circle cx="1251.5" cy="324.6" r="6.35" fill="#f09415"/>
<circle cx="1219.0" cy="323.4" r="6.35" fill="#f09415"/>
<circle cx="1233.1" cy="338.8" r="6.35" fill="#f09415"/>
<circle cx="1275.8" cy="327.7" r="6.35" fill="#f09415"/>
<circle cx="1288.3" cy="325.8" r="6.35" fill="#f09415"/>
<circle cx="1314.2" cy="302.4" r="6.35" fill="#f09415"/>
<circle cx="1358.2" cy="304.1" r="6.35" fill="#f09415"/>
<circle cx="1361.6" cy="307.5" r="6.35" fill="#f09415"/>
<circle cx="1338.0" cy="308.0" r="6.35" fill="#f09415"/>
<circle cx="1350.8" cy="311.4" r="6.35" fill="#f09415"/>
<circle cx="1340.0" cy="316.3" r="6.35" fill="#f09415"/>
<circle cx="1348.9" cy="318.3" r="6.35" fill="#f09415"/>
<circle cx="1371.4" cy="314.3" r="6.35" fill="#f09415"/>
<circle cx="1302.2" cy="313.4" r="6.35" fill="#f09415"/>
<circle cx="1309.6" cy="313.9" r="6.35" fill="#f09415"/>
<circle cx="1005.9" cy="289.0" r="6.35" fill="#f09415"/>
<circle cx="953.6" cy="320.1" r="6.35" fill="#f09415"/>
<circle cx="986.3" cy="313.2" r="6.35" fill="#f09415"/>
<circle cx="1039.2" cy="316.9" r="6.35" fill="#f09415"/>
<circle cx="1019.7" cy="324.2" r="6.35" fill="#f09415"/>
<circle cx="1022.7" cy="324.0" r="6.35" fill="#f09415"/>
<circle cx="1058.2" cy="305.1" r="6.35" fill="#f09415"/>
<circle cx="1053.2" cy="332.3" r="6.35" fill="#f09415"/>
<circle cx="1104.3" cy="302.8" r="6.35" fill="#f09415"/>
<circle cx="1119.3" cy="326.0" r="6.35" fill="#f09415"/>
<circle cx="1077.2" cy="334.6" r="6.35" fill="#f09415"/>
<circle cx="1073.6" cy="342.5" r="6.35" fill="#f09415"/>
<circle cx="1107.5" cy="339.0" r="6.35" fill="#f09415"/>
<circle cx="1309.9" cy="220.2" r="6.35" fill="#f09415"/>
</g>
<line x1="957.0" y1="350.4" x2="957.0" y2="362.79999999999995" stroke="#000" stroke-width="3.2"/>
<text class="ser" x="957.0" y="398.8" font-size="32.2" text-anchor="middle">50</text>
<line x1="1054.1" y1="350.4" x2="1054.1" y2="362.79999999999995" stroke="#000" stroke-width="3.2"/>
<text class="ser" x="1054.1" y="398.8" font-size="32.2" text-anchor="middle">100</text>
<line x1="1151.2" y1="350.4" x2="1151.2" y2="362.79999999999995" stroke="#000" stroke-width="3.2"/>
<text class="ser" x="1151.2" y="398.8" font-size="32.2" text-anchor="middle">150</text>
<line x1="1248.3000000000002" y1="350.4" x2="1248.3000000000002" y2="362.79999999999995" stroke="#000" stroke-width="3.2"/>
<text class="ser" x="1248.3000000000002" y="398.8" font-size="32.2" text-anchor="middle">200</text>
<line x1="1345.4" y1="350.4" x2="1345.4" y2="362.79999999999995" stroke="#000" stroke-width="3.2"/>
<text class="ser" x="1345.4" y="398.8" font-size="32.2" text-anchor="middle">250</text>
<line x1="885.7" y1="25.55" x2="898.7" y2="25.55" stroke="#000" stroke-width="3.2"/>
<text class="san" x="873.20" y="36.95" font-size="32.2" text-anchor="end">10<tspan dy="-11.4" font-size="22.3">3</tspan></text>
<line x1="885.7" y1="100.27" x2="898.7" y2="100.27" stroke="#000" stroke-width="3.2"/>
<text class="san" x="873.20" y="111.67" font-size="32.2" text-anchor="end">10<tspan dy="-11.4" font-size="22.3">2</tspan></text>
<line x1="885.7" y1="174.99" x2="898.7" y2="174.99" stroke="#000" stroke-width="3.2"/>
<text class="san" x="873.20" y="186.39" font-size="32.2" text-anchor="end">10<tspan dy="-11.4" font-size="22.3">1</tspan></text>
<line x1="885.7" y1="249.71" x2="898.7" y2="249.71" stroke="#000" stroke-width="3.2"/>
<text class="san" x="873.20" y="261.11" font-size="32.2" text-anchor="end">10<tspan dy="-11.4" font-size="22.3">0</tspan></text>
<line x1="885.7" y1="324.43" x2="898.7" y2="324.43" stroke="#000" stroke-width="3.2"/>
<text class="san" x="870.70" y="335.13" font-size="32.2" text-anchor="end">10<tspan dy="-11.4" font-size="22.3">−1</tspan></text>
<rect x="898.7" y="3.6" width="524.5" height="346.79999999999995" fill="none" stroke="#000" stroke-width="3.2"/>
<text class="ser" x="901.1" y="39.3" font-size="38.6">(b)</text>
<text class="ser" x="1014.3" y="450.6" font-size="38.5" style="font-kerning:none">Temperature [K]</text>
<text class="ser" transform="translate(793.7,292.5) rotate(-90)" font-size="38.6">RC-time <tspan class="san" font-style="italic">τ</tspan><tspan class="san" font-style="italic" font-size="27" dy="6">RC</tspan><tspan class="san" dy="-6" dx="14">[s</tspan><tspan class="san" dx="-1.5">]</tspan></text>
<circle cx="1003.4" cy="25.1" r="6.35" fill="#04205c"/>
<text class="ser" x="1036.5" y="37.6" font-size="34.8">Cooldown</text>
<circle cx="1249.2" cy="25.1" r="6.35" fill="#f09415"/>
<text class="ser" x="1282" y="37.6" font-size="34.8">Heatup</text>
</svg></body></html>
